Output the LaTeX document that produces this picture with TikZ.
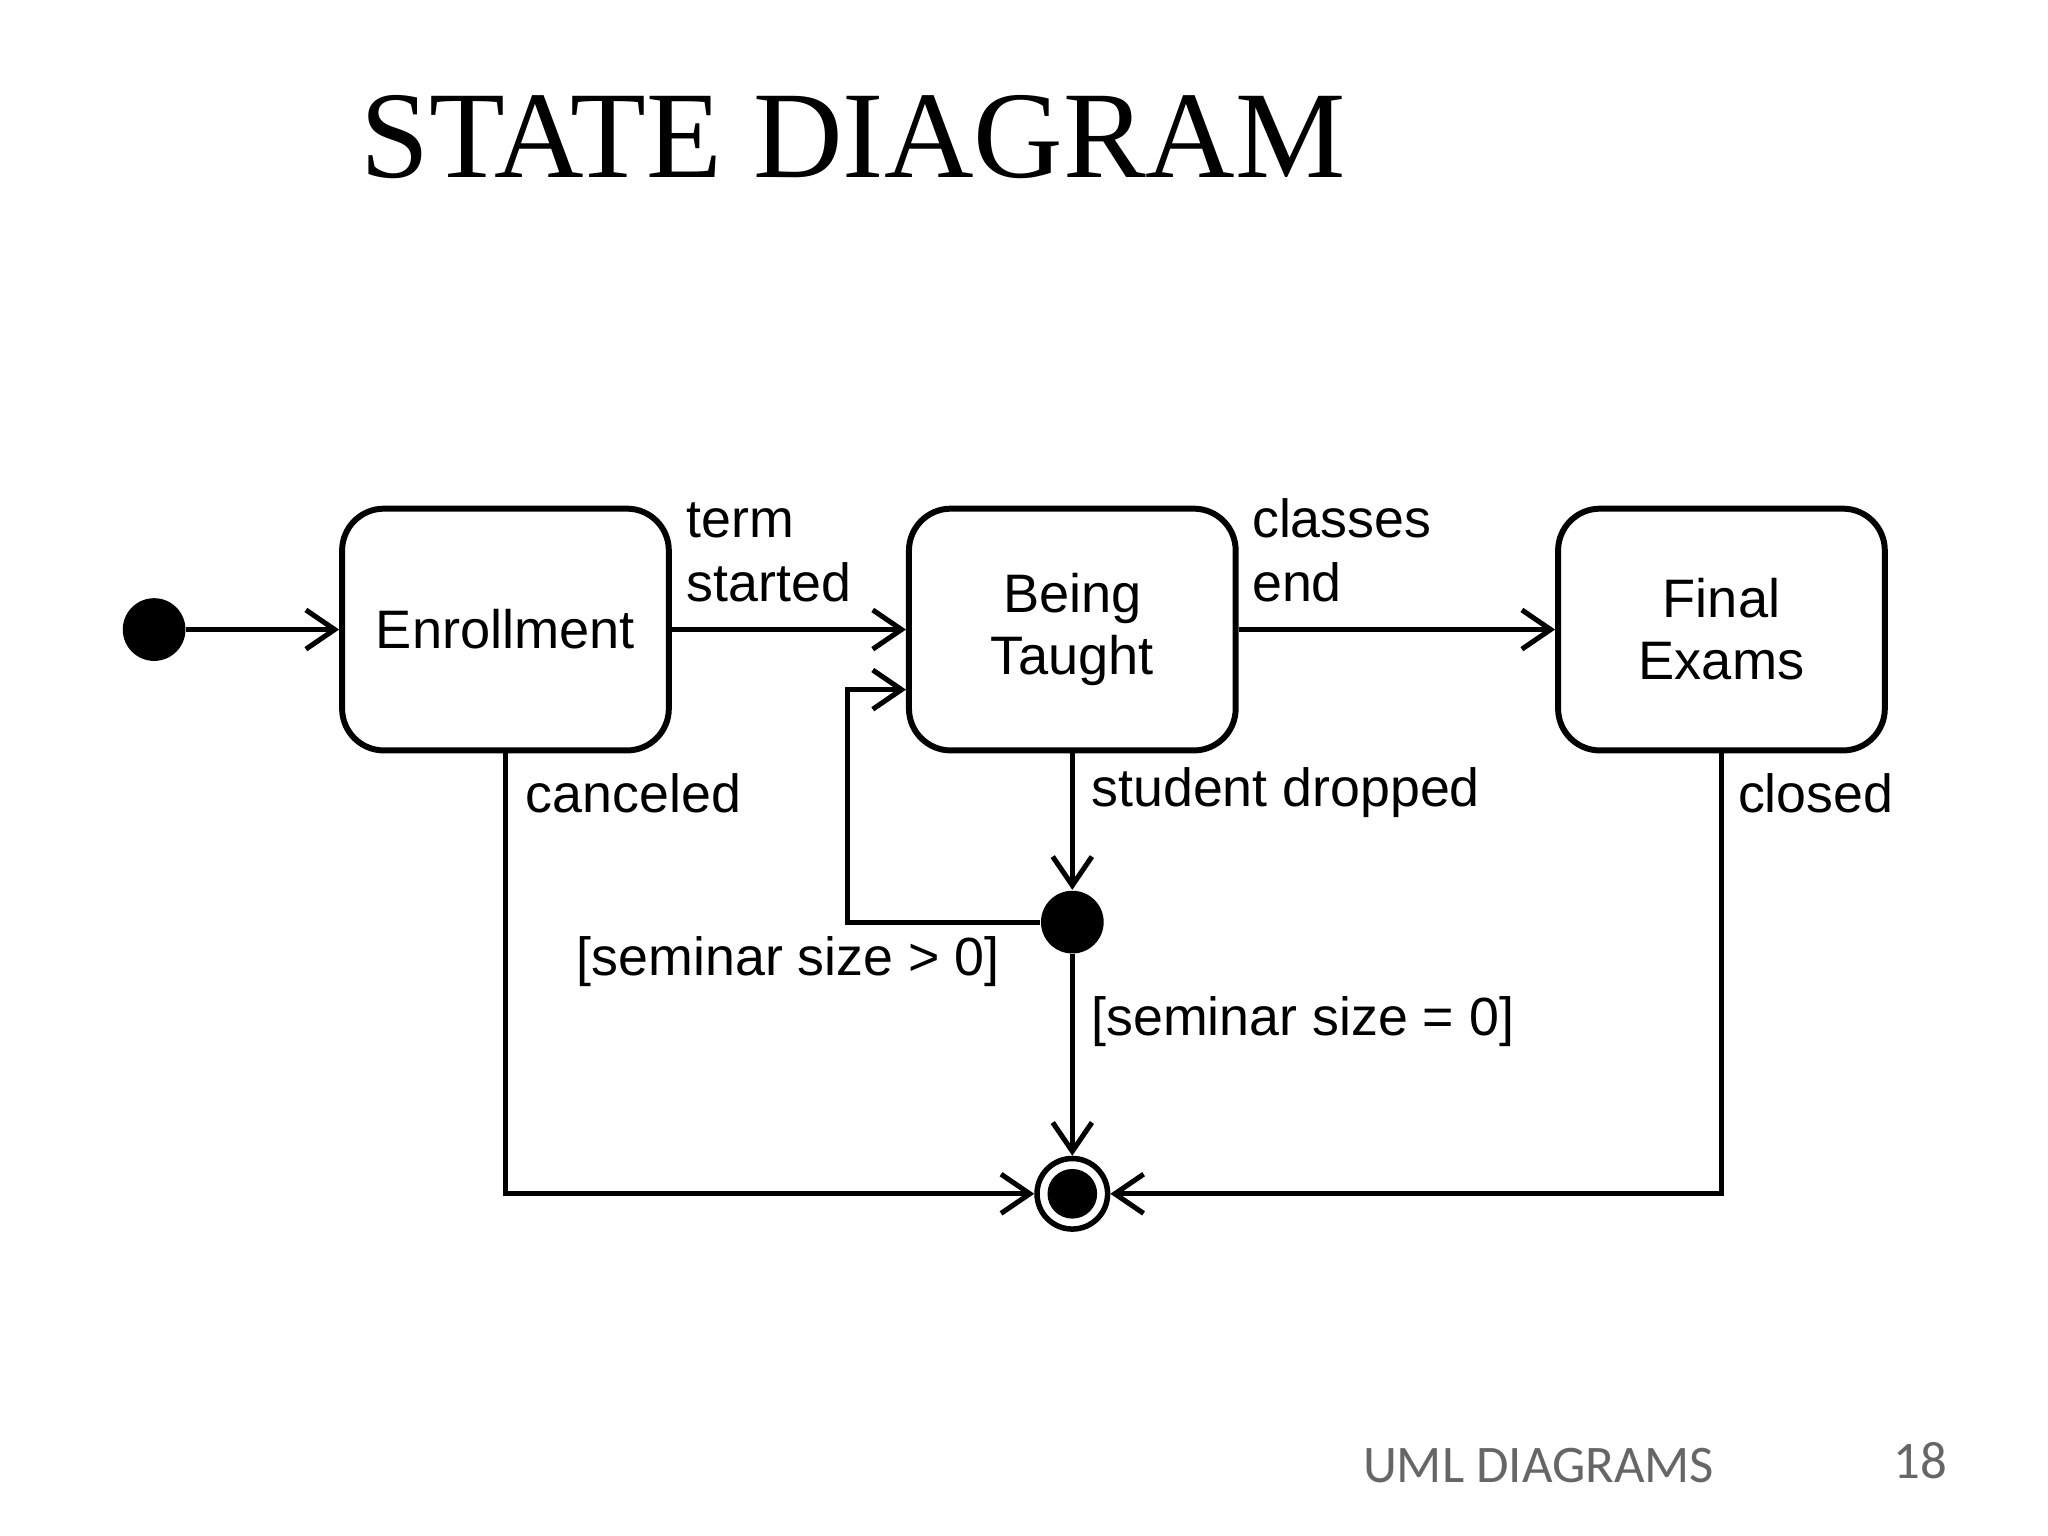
\documentclass[tikz,border=0pt]{standalone}
\usepackage{fontspec}
\setmainfont{Liberation Sans}
\newfontfamily\titlefont{Liberation Serif}
\newfontfamily\footfont{Carlito}
\usetikzlibrary{arrows.meta}
\begin{document}
\begin{tikzpicture}[x=0.01cm,y=-0.01cm,
  st/.style={draw,line width=1.3pt,rounded corners=0.32cm,minimum width=2.5cm,minimum height=1.85cm,align=center,font=\fontsize{11.8}{13.5}\selectfont},
  tr/.style={line width=1.1pt,-{Straight Barb[length=0.22cm,width=0.3cm,line width=1.1pt]}},
  lb/.style={font=\fontsize{11.7}{14}\selectfont,align=left,inner sep=0pt},
  dot/.style={circle,fill=black,minimum size=0.48cm,inner sep=0pt}]
\useasboundingbox (0,0) rectangle (1568,1176);
\node[font=\titlefont\fontsize{27}{30}\selectfont] (title) at (653,105) {STATE DIAGRAM};
\node[dot] (init) at (118,482) {};
\node[st] (enr) at (387,482) {Enrollment};
\node[st] (bt) at (821,482) {Being\\Taught};
\node[st] (fe) at (1318,482) {Final\\Exams};
\node[dot] (j) at (821,706) {};
\node[circle,draw,line width=1.2pt,minimum size=0.54cm,inner sep=0pt] (fin) at (821,914) {};
\node[circle,fill=black,minimum size=0.38cm,inner sep=0pt] at (fin) {};
\coordinate (c1) at (649,706);
\coordinate (c2) at (649,528);
\coordinate (c3) at (387,914);
\coordinate (c4) at (1318,914);
\draw[tr] (init) -- (enr);
\draw[tr] (enr) -- (bt);
\draw[tr] (bt) -- (fe);
\draw[tr] (bt) -- (j);
\draw[tr] (j.west) -- (c1) -- (c2) -- (c2 -| bt.west);
\draw[tr] (j) -- (fin);
\draw[tr] (enr.south) -- (c3) -- (fin.west);
\draw[tr] (fe.south) -- (c4) -- (fin.east);
\node[lb,anchor=south west] (l1) at (525,462) {term\\started};
\node[lb,anchor=south west] (l2) at (958,462) {classes\\end};
\node[lb,anchor=west] (l3) at (402,607) {canceled};
\node[lb,anchor=west] (l4) at (835,607) {student dropped};
\node[lb,anchor=east] (l5) at (766,736) {[seminar size > 0]};
\node[lb,anchor=west] (l6) at (835,782) {[seminar size = 0]};
\node[lb,anchor=west] (l7) at (1330,607) {closed};
\node[font=\footfont\fontsize{11.5}{13}\selectfont,text=black!60] (f1) at (1178,1122) {UML DIAGRAMS};
\node[font=\footfont\fontsize{11.5}{13}\selectfont,text=black!60] (f2) at (1470,1118) {18};
\end{tikzpicture}
\end{document}
